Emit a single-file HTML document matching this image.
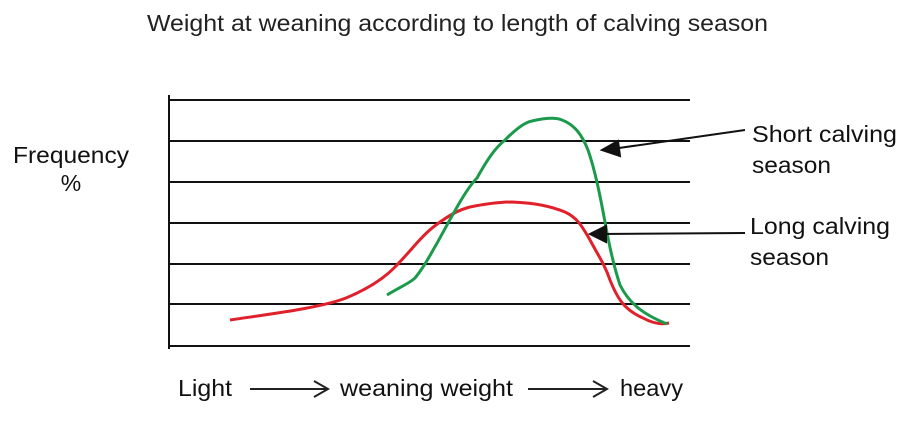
<!DOCTYPE html>
<html><head><style>body{margin:0;background:#fff}</style></head><body>
<svg width="905" height="438" xmlns="http://www.w3.org/2000/svg" font-family="Liberation Sans, sans-serif">
<text x="147" y="31" font-size="23" textLength="621" lengthAdjust="spacingAndGlyphs" fill="#222">Weight at weaning according to length of calving season</text>
<text x="13" y="163" font-size="23" textLength="116" lengthAdjust="spacingAndGlyphs" fill="#111">Frequency</text>
<text x="71" y="191" font-size="23" text-anchor="middle" fill="#111">%</text>
<g stroke="#111" stroke-width="2">
<line x1="169" y1="95" x2="169" y2="349"/>
<line x1="169" y1="100" x2="690" y2="100"/>
<line x1="169" y1="141" x2="690" y2="141"/>
<line x1="169" y1="182" x2="690" y2="182"/>
<line x1="169" y1="223" x2="690" y2="223"/>
<line x1="169" y1="264" x2="690" y2="264"/>
<line x1="169" y1="304" x2="690" y2="304"/>
<line x1="169" y1="346" x2="690" y2="346"/>
</g>
<path d="M230,320 C270,314 320,308 346,298 C370,288 385,277 394,268 C410,252 422,235 436,225 C448,216 458,210 470,207 C490,203 505,202 512,202 C535,203 550,206 565,212 C578,218 583,228 590,240 C598,255 605,265 610,280 C618,300 625,310 643,318 C652,323 660,325 669,323" fill="none" stroke="#e0202a" stroke-width="3"/>
<path d="M387,295 C400,287 410,283 415,278 C425,266 430,255 436,245 C450,220 465,190 477,178 C487,160 495,148 505,140 C515,130 525,122 532,121 C545,118 555,117 562,120 C575,125 582,135 588,150 C595,170 600,195 605,222 C610,250 615,270 620,285 C630,305 645,315 667,324" fill="none" stroke="#1a9a4a" stroke-width="3"/>
<g stroke="#111" stroke-width="2" fill="#111">
<line x1="745" y1="130" x2="612" y2="149"/>
<polygon points="602,150 618,141 620,156"/>
<line x1="745" y1="233" x2="600" y2="234"/>
<polygon points="590,234 606,226 606,242"/>
</g>
<text x="752" y="142" font-size="23" textLength="145" lengthAdjust="spacingAndGlyphs" fill="#111">Short calving</text>
<text x="752" y="173" font-size="23" textLength="79" lengthAdjust="spacingAndGlyphs" fill="#111">season</text>
<text x="750" y="234" font-size="23" textLength="140" lengthAdjust="spacingAndGlyphs" fill="#111">Long calving</text>
<text x="750" y="265" font-size="23" textLength="79" lengthAdjust="spacingAndGlyphs" fill="#111">season</text>
<text x="178" y="396" font-size="23" textLength="54" lengthAdjust="spacingAndGlyphs" fill="#111">Light</text>
<text x="340" y="396" font-size="23" textLength="173" lengthAdjust="spacingAndGlyphs" fill="#111">weaning weight</text>
<text x="620" y="396" font-size="23" textLength="63" lengthAdjust="spacingAndGlyphs" fill="#111">heavy</text>
<g stroke="#222" stroke-width="2" fill="none">
<line x1="250" y1="389" x2="327" y2="389"/>
<polyline points="314,381 328,389 314,397"/>
<line x1="528" y1="389" x2="606" y2="389"/>
<polyline points="593,381 607,389 593,397"/>
</g>
</svg>
</body></html>
